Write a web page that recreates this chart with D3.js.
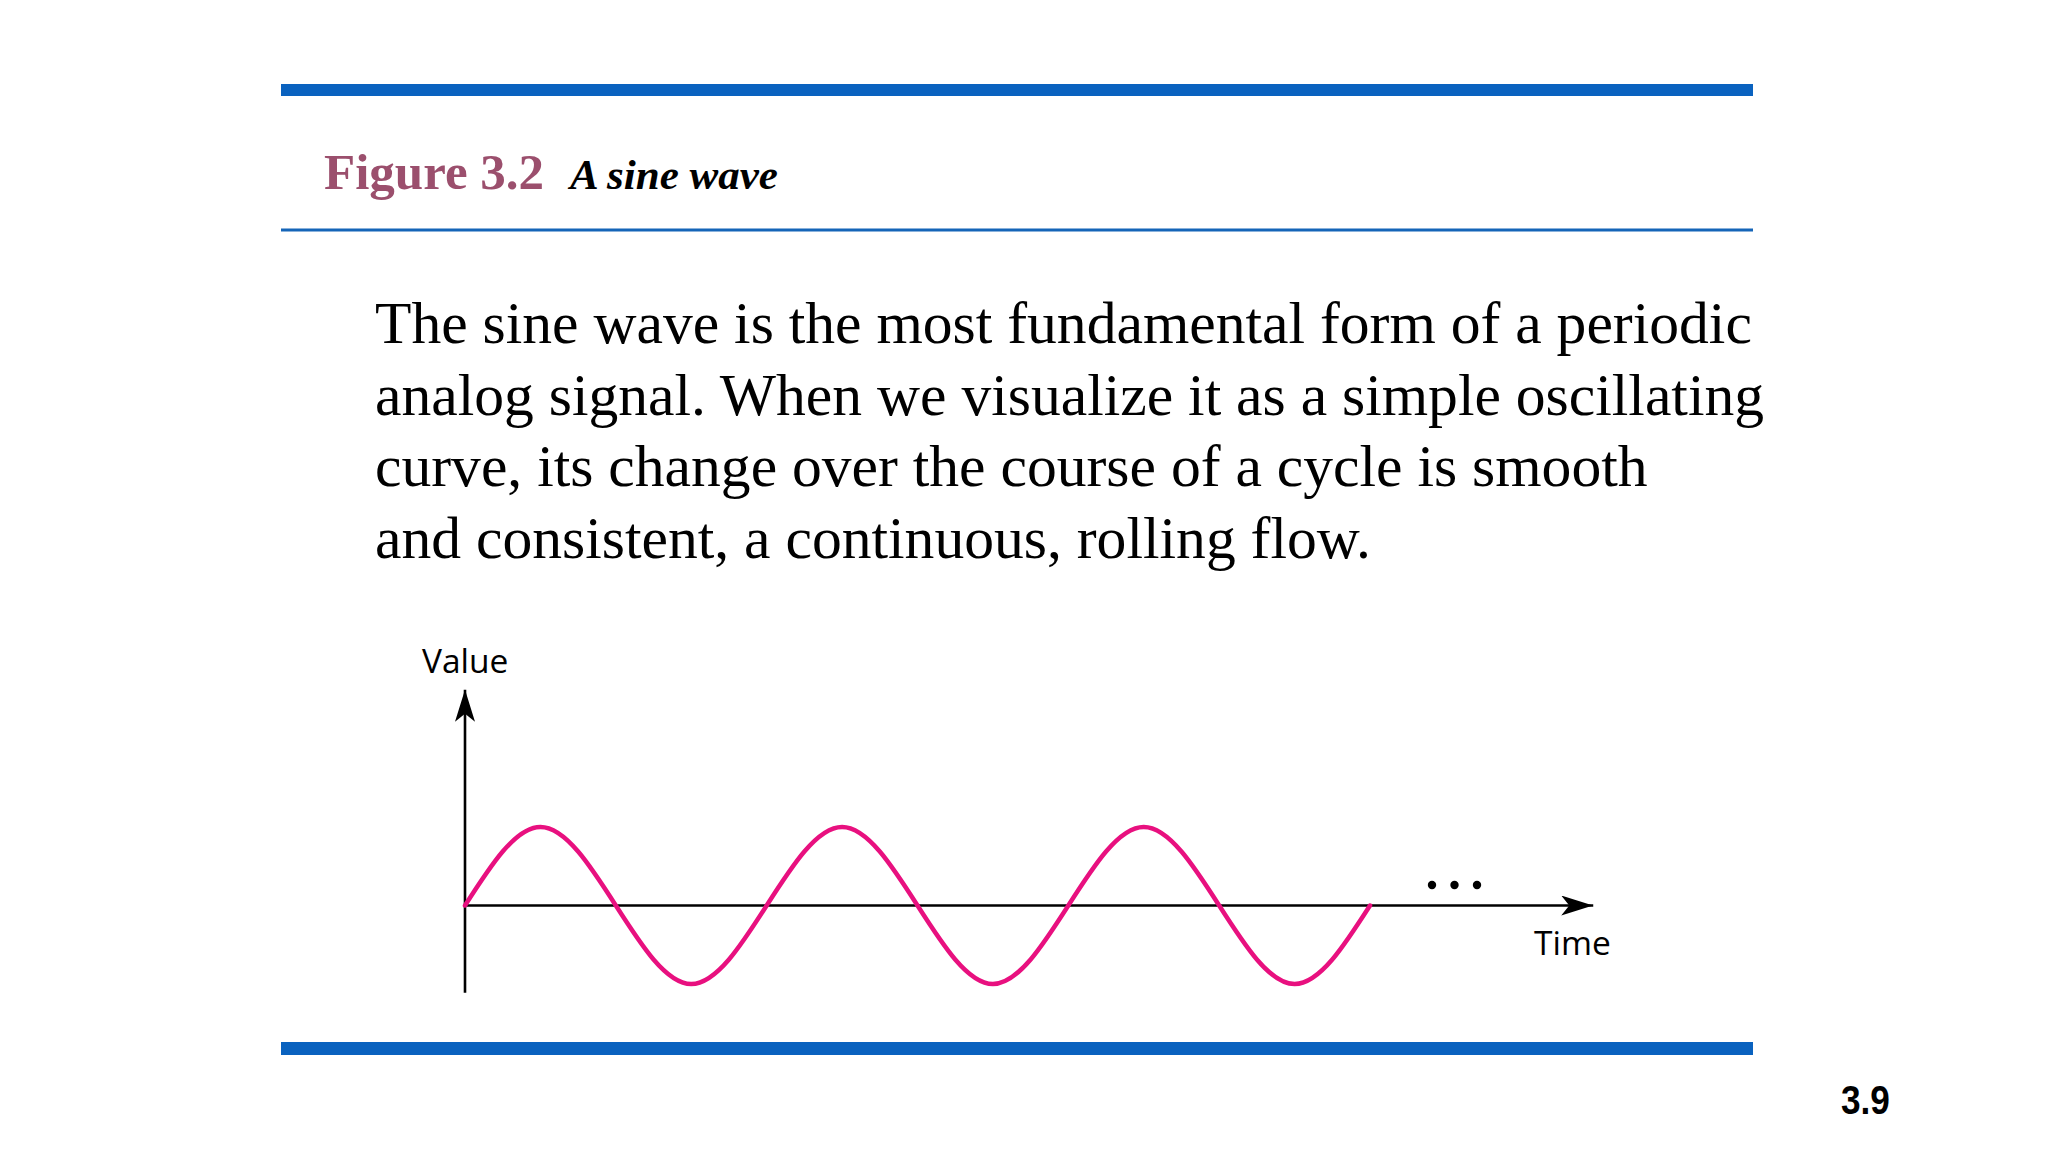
<!DOCTYPE html>
<html>
<head>
<meta charset="utf-8">
<script src="https://cdn.jsdelivr.net/npm/d3@7"></script>
<style>
  html, body { margin: 0; padding: 0; background: #ffffff; }
  svg { display: block; }
</style>
</head>
<body>
<script>
// ---- Data ----
const figureNumber = "Figure 3.2";
const figureTitle = "A sine wave";
const paragraphLines = [
  "The sine wave is the most fundamental form of a periodic",
  "analog signal. When we visualize it as a simple oscillating",
  "curve, its change over the course of a cycle is smooth",
  "and consistent, a continuous, rolling flow."
];
const waveTime  = [0, 0.25, 0.5, 0.75, 1, 1.25, 1.5, 1.75, 2, 2.25, 2.5, 2.75, 3];
const waveValue = [0, 1, 0, -1, 0, 1, 0, -1, 0, 1, 0, -1, 0];
const axisLabels = { y: "Value", x: "Time" };
const pageNumber = "3.9";

// ---- Layout ----
const W = 2048, H = 1152;
const svg = d3.select("body").append("svg").attr("width", W).attr("height", H);

const blue = "#0a62bf";
// top thick bar
svg.append("rect").attr("x", 281).attr("y", 84).attr("width", 1472).attr("height", 12).attr("fill", blue);
// thin rule
svg.append("rect").attr("x", 281).attr("y", 228.5).attr("width", 1472).attr("height", 3).attr("fill", "#1565b8");
// bottom thick bar
svg.append("rect").attr("x", 281).attr("y", 1042).attr("width", 1472).attr("height", 13).attr("fill", blue);

// title
const t = svg.append("text").attr("x", 324).attr("y", 189)
  .attr("font-family", "'Liberation Serif', 'Times New Roman', serif");
t.append("tspan").attr("font-weight", "bold").attr("font-size", 51).attr("fill", "#9b4f6d").text(figureNumber);
t.append("tspan").attr("dx", 26).attr("font-weight", "bold").attr("font-style", "italic")
  .attr("font-size", 43).attr("fill", "#000").text(figureTitle);

// paragraph
svg.append("g").selectAll("text").data(paragraphLines).join("text")
  .attr("x", 375).attr("y", (d, i) => 343 + i * 71.7)
  .attr("font-family", "'Liberation Serif', 'Times New Roman', serif")
  .attr("font-size", 59.6).attr("fill", "#000").text(d => d);

// ---- Chart ----
const x = d3.scaleLinear().domain([0, 3]).range([465, 1370]);
const y = d3.scaleLinear().domain([-1, 1]).range([984, 827]);

const axisColor = "#000";
const xEnd = 3.74, yTop = 2.75, yBottom = -1.11;

svg.append("defs").append("marker")
  .attr("id", "arrow").attr("viewBox", "0 0 32 20").attr("refX", 32).attr("refY", 10)
  .attr("markerWidth", 32).attr("markerHeight", 20).attr("markerUnits", "userSpaceOnUse")
  .attr("orient", "auto")
  .append("path").attr("d", "M0,0 L32,10 L0,20 L8,10 Z").attr("fill", axisColor);

// x axis
svg.append("line").attr("x1", x(0)).attr("y1", y(0)).attr("x2", x(xEnd)).attr("y2", y(0))
  .attr("stroke", axisColor).attr("stroke-width", 2.6).attr("marker-end", "url(#arrow)");
// y axis
svg.append("line").attr("x1", x(0)).attr("y1", y(yBottom)).attr("x2", x(0)).attr("y2", y(yTop))
  .attr("stroke", axisColor).attr("stroke-width", 2.6).attr("marker-end", "url(#arrow)");

// wave
const line = d3.line().x((d, i) => x(waveTime[i])).y(d => y(d)).curve(d3.curveNatural);
svg.append("path").attr("d", line(waveValue)).attr("fill", "none")
  .attr("stroke", "#e8107f").attr("stroke-width", 4.5).attr("stroke-linecap", "round");

// ellipsis dots
svg.append("g").selectAll("circle").data([0, 1, 2]).join("circle")
  .attr("cx", d => 1432 + d * 22.5).attr("cy", 885).attr("r", 4.2).attr("fill", "#000");

// axis labels
svg.append("text").attr("x", 422).attr("y", 673)
  .attr("font-family", "'Open Sans', sans-serif").attr("font-size", 33.5).attr("fill", "#000").text(axisLabels.y);
svg.append("text").attr("x", 1534).attr("y", 955)
  .attr("font-family", "'Open Sans', sans-serif").attr("font-size", 33.5).attr("fill", "#000").text(axisLabels.x);

// page number (condensed look)
svg.append("text").attr("transform", "translate(1841,1114) scale(0.88,1)")
  .attr("font-family", "'Liberation Sans', Arial, sans-serif")
  .attr("font-weight", "bold").attr("font-size", 40).attr("fill", "#000").text(pageNumber);
</script>
</body>
</html>
